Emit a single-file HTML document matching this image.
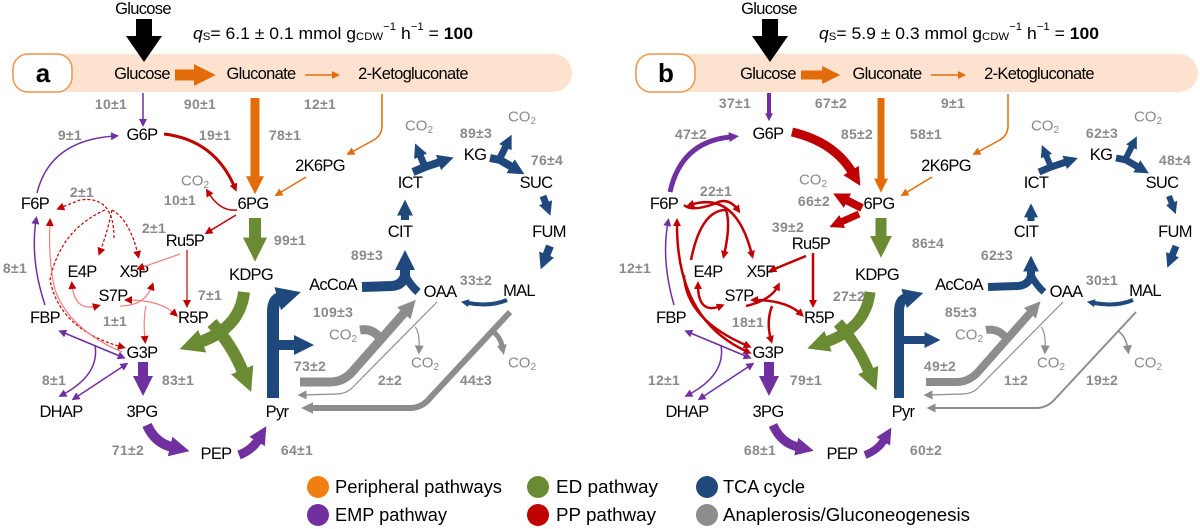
<!DOCTYPE html>
<html><head><meta charset="utf-8"><style>
html,body{margin:0;padding:0;background:#fff;}
svg{display:block;font-family:"Liberation Sans",Arial,sans-serif;}
.n{font-size:16.5px;fill:#000;text-anchor:middle;dominant-baseline:central;letter-spacing:-0.7px;}
.v{font-size:14px;fill:#8a8a8a;font-weight:bold;text-anchor:middle;dominant-baseline:central;letter-spacing:0.3px;}
.c{font-size:15px;fill:#8a8a8a;text-anchor:middle;dominant-baseline:central;}
.l{font-size:18px;fill:#000;dominant-baseline:central;}
path{fill:none;stroke-linecap:butt;}
</style></head><body>
<svg width="1200" height="529" viewBox="0 0 1200 529" xmlns="http://www.w3.org/2000/svg">
<defs>
<marker id="OT" viewBox="0 0 10 10" refX="1" refY="5" markerWidth="2" markerHeight="2.2" orient="auto"><path d="M0,0L10,5L0,10z" style="fill:#e36c0a;stroke:none"/></marker>
<marker id="PT" viewBox="0 0 10 10" refX="1" refY="5" markerWidth="2" markerHeight="2.2" orient="auto"><path d="M0,0L10,5L0,10z" style="fill:#7030a0;stroke:none"/></marker>
<marker id="GT" viewBox="0 0 10 10" refX="1" refY="5" markerWidth="2" markerHeight="2.2" orient="auto"><path d="M0,0L10,5L0,10z" style="fill:#6a8a34;stroke:none"/></marker>
<marker id="BT" viewBox="0 0 10 10" refX="1" refY="5" markerWidth="2" markerHeight="2.2" orient="auto"><path d="M0,0L10,5L0,10z" style="fill:#1f497d;stroke:none"/></marker>
<marker id="RT" viewBox="0 0 10 10" refX="1" refY="5" markerWidth="2" markerHeight="2.2" orient="auto"><path d="M0,0L10,5L0,10z" style="fill:#c00000;stroke:none"/></marker>
<marker id="KT" viewBox="0 0 10 10" refX="1" refY="5" markerWidth="2" markerHeight="2.2" orient="auto"><path d="M0,0L10,5L0,10z" style="fill:#8d8d8d;stroke:none"/></marker>
<marker id="Ot" viewBox="0 0 10 10" refX="5" refY="5" markerUnits="userSpaceOnUse" markerWidth="9" markerHeight="8" orient="auto"><path d="M0,0L10,5L0,10z" style="fill:#e36c0a;stroke:none"/></marker>
<marker id="Pt" viewBox="0 0 10 10" refX="5" refY="5" markerUnits="userSpaceOnUse" markerWidth="9" markerHeight="8" orient="auto-start-reverse"><path d="M0,0L10,5L0,10z" style="fill:#7030a0;stroke:none"/></marker>
<marker id="Rt" viewBox="0 0 10 10" refX="5" refY="5" markerUnits="userSpaceOnUse" markerWidth="9" markerHeight="8" orient="auto-start-reverse"><path d="M0,0L10,5L0,10z" style="fill:#c00000;stroke:none"/></marker>
<marker id="Kt" viewBox="0 0 10 10" refX="5" refY="5" markerUnits="userSpaceOnUse" markerWidth="10" markerHeight="9" orient="auto"><path d="M0,0L10,5L0,10z" style="fill:#8d8d8d;stroke:none"/></marker>
</defs>

<!-- ================= PANEL A ================= -->
<g>
<rect x="12" y="54" width="560" height="38" rx="19" fill="#fde3cf"/>
<rect x="13" y="54" width="59" height="38" rx="15" fill="#fff" stroke="#f0944a" stroke-width="1.5"/>
<text x="43" y="73" style="font-size:26px;font-weight:bold;text-anchor:middle;dominant-baseline:central">a</text>
<text class="n" x="143" y="9">Glucose</text>
<polygon points="136,19 152,19 152,36 162,36 144,62 126,36 136,36" fill="#000"/>
<text x="193" y="33" textLength="280" lengthAdjust="spacingAndGlyphs" style="font-size:17px;dominant-baseline:central"><tspan font-style="italic">q</tspan><tspan font-size="11" dy="4">S</tspan><tspan dy="-4">= 6.1 ± 0.1 mmol g</tspan><tspan font-size="11" dy="4">CDW</tspan><tspan font-size="11" dy="-10">−1</tspan><tspan dy="6"> h</tspan><tspan font-size="11" dy="-6">−1</tspan><tspan dy="6"> = </tspan><tspan font-weight="bold">100</tspan></text>
<text class="n" x="142" y="74">Glucose</text>
<text class="n" x="261" y="74">Gluconate</text>
<text class="n" x="413" y="74">2-Ketogluconate</text>
<path d="M175,75 L196,75" stroke="#e36c0a" stroke-width="11" marker-end="url(#OT)"/>
<path d="M305,75 L336,75" stroke="#e36c0a" stroke-width="1.5" marker-end="url(#Ot)"/>
<path d="M143,93 L143,123" stroke="#7030a0" stroke-width="1.5" marker-end="url(#Pt)"/>
<path d="M255,98 L255,178" stroke="#e36c0a" stroke-width="9" marker-end="url(#OT)"/>
<path d="M382,94 L382,126 Q382,136 372,141 L350,153" stroke="#e36c0a" stroke-width="1.5" marker-end="url(#Ot)"/>
<path d="M306,177 L278,194" stroke="#e36c0a" stroke-width="1.5" marker-end="url(#Ot)"/>
<text class="v" x="111" y="104">10±1</text><text class="v" x="200" y="104">90±1</text><text class="v" x="320" y="104">12±1</text>
<text class="n" x="142" y="135">G6P</text><text class="v" x="70" y="135">9±1</text><text class="v" x="215" y="135">19±1</text><text class="v" x="285" y="135">78±1</text>
<text class="n" x="320" y="166">2K6PG</text>
<path d="M164,134 Q215,140 235,188" stroke="#c00000" stroke-width="3" marker-end="url(#Rt)"/>
<path d="M37,193 Q50,140 115,136" stroke="#7030a0" stroke-width="1.5" marker-end="url(#Pt)"/>
<text class="c" x="195" y="181">CO<tspan font-size="10" dy="4">2</tspan></text>
<text class="v" x="180" y="200">10±1</text>
<text class="n" x="253" y="204">6PG</text>
<path d="M237,210 Q220,212 208,192" stroke="#c00000" stroke-width="1.5" marker-end="url(#Rt)"/>
<path d="M236,215 L208,232" stroke="#c00000" stroke-width="1.5" marker-end="url(#Rt)"/>
<path d="M255,218 L255,240" stroke="#6a8a34" stroke-width="12" marker-end="url(#GT)"/>
<text class="v" x="290" y="240">99±1</text>
<text class="n" x="35" y="204">F6P</text><text class="v" x="82" y="192">2±1</text><text class="v" x="154" y="228">2±1</text>
<text class="n" x="185" y="241">Ru5P</text>
<text class="n" x="251" y="275">KDPG</text>
<text class="n" x="82" y="272">E4P</text><text class="n" x="134" y="272">X5P</text><text class="n" x="113" y="296">S7P</text>
<text class="n" x="193" y="318">R5P</text><text class="n" x="45" y="318">FBP</text><text class="v" x="115" y="321">1±1</text>
<text class="v" x="15" y="268">8±1</text><text class="v" x="210" y="295">7±1</text>
<path d="M114,238 Q114,195 80,200 L60,208" stroke="#c00000" stroke-width="1.2" stroke-dasharray="3,2" marker-end="url(#Rt)"/>
<path d="M112,210 Q108,230 100,252" stroke="#c00000" stroke-width="1.2" stroke-dasharray="3,2" marker-end="url(#Rt)"/>
<path d="M112,210 Q130,220 138,255" stroke="#c00000" stroke-width="1.2" stroke-dasharray="3,2" marker-end="url(#Rt)"/>
<path d="M105,210 Q60,230 50,280 Q60,330 122,347" stroke="#c00000" stroke-width="1.2" stroke-dasharray="3,2" marker-end="url(#Rt)"/>
<path d="M122,352 Q70,330 55,290 Q48,260 50,222" stroke="#f08080" stroke-width="1.2" marker-end="url(#Rt)"/>
<path d="M180,254 L140,268" stroke="#f08080" stroke-width="1.2" marker-end="url(#Rt)"/>
<path d="M187,250 L187,304" stroke="#c00000" stroke-width="1.2" marker-end="url(#Rt)"/>
<path d="M72,285 Q75,312 97,306" stroke="#f08080" stroke-width="1.2" marker-end="url(#Rt)" marker-start="url(#Rt)"/>
<path d="M120,306 Q145,306 152,286" stroke="#f08080" stroke-width="1.2" marker-end="url(#Rt)"/>
<path d="M128,300 Q160,300 175,314" stroke="#f08080" stroke-width="1.2" marker-end="url(#Rt)" marker-start="url(#Rt)"/>
<path d="M146,306 Q143,320 145,340" stroke="#f08080" stroke-width="1.2" marker-end="url(#Rt)"/>
<path d="M45,305 Q30,260 36,220" stroke="#7030a0" stroke-width="1.5" marker-end="url(#Pt)"/>
<path d="M62,332 L122,357" stroke="#7030a0" stroke-width="1.5" marker-end="url(#Pt)" marker-start="url(#Pt)"/>
<path d="M95,345 Q100,375 62,395" stroke="#7030a0" stroke-width="1.5" marker-end="url(#Pt)"/>
<path d="M75,398 L125,365" stroke="#7030a0" stroke-width="1.5" marker-end="url(#Pt)" marker-start="url(#Pt)"/>
<text class="n" x="142" y="353">G3P</text>
<text class="v" x="54" y="380">8±1</text><text class="v" x="178" y="380">83±1</text>
<path d="M143,362 L143,378" stroke="#7030a0" stroke-width="10" marker-end="url(#PT)"/>
<text class="n" x="61" y="412">DHAP</text><text class="n" x="142" y="412">3PG</text><text class="n" x="277" y="412">Pyr</text>
<path d="M147,425 Q155,443 172,447" stroke="#7030a0" stroke-width="10" marker-end="url(#PT)"/>
<path d="M239,455 Q252,450 258,440" stroke="#7030a0" stroke-width="9" marker-end="url(#PT)"/>
<text class="v" x="128" y="450">71±2</text><text class="n" x="216" y="454">PEP</text><text class="v" x="297" y="450">64±1</text>
<path d="M244,292 Q240,328 200,342" stroke="#6a8a34" stroke-width="12" marker-end="url(#GT)"/>
<path d="M212,323 Q232,345 243,372" stroke="#6a8a34" stroke-width="12" marker-end="url(#GT)"/>
<path d="M273,398 L273,312 Q273,300 280,298" stroke="#1f497d" stroke-width="12" marker-end="url(#BT)"/>
<path d="M273,345 L296,345" stroke="#1f497d" stroke-width="10" marker-end="url(#BT)"/>
<text class="n" x="333" y="285">AcCoA</text><text class="n" x="440" y="292">OAA</text><text class="n" x="519" y="291">MAL</text>
<text class="v" x="476" y="280">33±2</text><text class="v" x="333" y="312">109±3</text>
<text class="c" x="343" y="335">CO<tspan font-size="10" dy="4">2</tspan></text>
<path d="M362,287 L392,286 Q403,285 405,275 L405,268" stroke="#1f497d" stroke-width="10" marker-end="url(#BT)"/>
<path d="M418,292 Q410,285 405,275" stroke="#1f497d" stroke-width="8"/>
<text class="v" x="367" y="255">89±3</text>
<text class="n" x="400" y="232">CIT</text>
<path d="M405,220 L405,214" stroke="#1f497d" stroke-width="8" marker-end="url(#BT)"/>
<text class="n" x="410" y="183">ICT</text>
<path d="M413,172 L425,167 L440,162" stroke="#1f497d" stroke-width="8" marker-end="url(#BT)"/>
<path d="M425,167 L420,155" stroke="#1f497d" stroke-width="7" marker-end="url(#BT)"/>
<text class="c" x="419" y="126">CO<tspan font-size="10" dy="4">2</tspan></text>
<text class="n" x="475" y="155">KG</text><text class="v" x="476" y="133">89±3</text>
<text class="c" x="522" y="117">CO<tspan font-size="10" dy="4">2</tspan></text>
<path d="M490,158 L500,160 L512,167" stroke="#1f497d" stroke-width="8" marker-end="url(#BT)"/>
<path d="M500,158 L506,146" stroke="#1f497d" stroke-width="7" marker-end="url(#BT)"/>
<text class="v" x="547" y="160">76±4</text>
<text class="n" x="536" y="183">SUC</text>
<path d="M543,196 L546,204" stroke="#1f497d" stroke-width="7" marker-end="url(#BT)"/>
<text class="n" x="549" y="232">FUM</text>
<path d="M550,246 L546,256" stroke="#1f497d" stroke-width="8" marker-end="url(#BT)"/>
<path d="M507,300 Q490,307 468,303" stroke="#1f497d" stroke-width="4" marker-end="url(#BT)"/>
<path d="M300,382 L330,382 Q343,382 352,372 L405,312" stroke="#8d8d8d" stroke-width="9" marker-end="url(#KT)"/>
<path d="M360,330 Q372,328 380,338" stroke="#8d8d8d" stroke-width="9"/>
<path d="M437,302 L352,388 Q346,394 336,394 L302,395" stroke="#8d8d8d" stroke-width="1.2" marker-end="url(#Kt)"/>
<path d="M415,327 Q420,332 419,350" stroke="#8d8d8d" stroke-width="1.2" marker-end="url(#Kt)"/>
<text class="c" x="425" y="363">CO<tspan font-size="10" dy="4">2</tspan></text>
<path d="M510,312 L430,398 Q422,408 410,408 L312,408" stroke="#8d8d8d" stroke-width="6" marker-end="url(#KT)"/>
<path d="M492,331 Q500,336 502,346" stroke="#8d8d8d" stroke-width="5" marker-end="url(#KT)"/>
<text class="c" x="522" y="363">CO<tspan font-size="10" dy="4">2</tspan></text>
<text class="v" x="310" y="366">73±2</text><text class="v" x="390" y="380">2±2</text><text class="v" x="476" y="380">44±3</text>
</g>

<!-- ================= PANEL B ================= -->
<g transform="translate(626,0)">
<rect x="9" y="54" width="563" height="38" rx="19" fill="#fde3cf"/>
<rect x="10" y="54" width="59" height="38" rx="15" fill="#fff" stroke="#f0944a" stroke-width="1.5"/>
<text x="40" y="73" style="font-size:26px;font-weight:bold;text-anchor:middle;dominant-baseline:central">b</text>
<text class="n" x="143" y="9">Glucose</text>
<polygon points="136,19 152,19 152,36 162,36 144,62 126,36 136,36" fill="#000"/>
<text x="193" y="33" textLength="280" lengthAdjust="spacingAndGlyphs" style="font-size:17px;dominant-baseline:central"><tspan font-style="italic">q</tspan><tspan font-size="11" dy="4">S</tspan><tspan dy="-4">= 5.9 ± 0.3 mmol g</tspan><tspan font-size="11" dy="4">CDW</tspan><tspan font-size="11" dy="-10">−1</tspan><tspan dy="6"> h</tspan><tspan font-size="11" dy="-6">−1</tspan><tspan dy="6"> = </tspan><tspan font-weight="bold">100</tspan></text>
<text class="n" x="142" y="74">Glucose</text>
<text class="n" x="261" y="74">Gluconate</text>
<text class="n" x="413" y="74">2-Ketogluconate</text>
<path d="M175,75 L198,75" stroke="#e36c0a" stroke-width="9" marker-end="url(#OT)"/>
<path d="M305,75 L336,75" stroke="#e36c0a" stroke-width="1.5" marker-end="url(#Ot)"/>
<path d="M143,93 L143,114" stroke="#7030a0" stroke-width="4" marker-end="url(#PT)"/>
<path d="M255,98 L255,180" stroke="#e36c0a" stroke-width="7" marker-end="url(#OT)"/>
<path d="M382,94 L382,126 Q382,136 372,141 L350,153" stroke="#e36c0a" stroke-width="1.5" marker-end="url(#Ot)"/>
<path d="M306,177 L278,194" stroke="#e36c0a" stroke-width="1.5" marker-end="url(#Ot)"/>
<text class="v" x="109" y="103">37±1</text><text class="v" x="205" y="103">67±2</text><text class="v" x="327" y="103">9±1</text>
<text class="n" x="142" y="134">G6P</text><text class="v" x="65" y="134">47±2</text><text class="v" x="231" y="134">85±2</text><text class="v" x="300" y="134">58±1</text>
<text class="n" x="320" y="166">2K6PG</text>
<path d="M166,132 Q208,142 226,172" stroke="#c00000" stroke-width="9" marker-end="url(#RT)"/>
<path d="M44,192 Q55,142 104,137" stroke="#7030a0" stroke-width="5" marker-end="url(#PT)"/>
<text class="c" x="187" y="180">CO<tspan font-size="10" dy="4">2</tspan></text>
<text class="v" x="188" y="201">66±2</text>
<text class="n" x="253" y="204">6PG</text>
<path d="M236,208 L220,200" stroke="#c00000" stroke-width="8" marker-end="url(#RT)"/>
<path d="M233,214 L215,222" stroke="#c00000" stroke-width="7" marker-end="url(#RT)"/>
<path d="M255,218 L255,238" stroke="#6a8a34" stroke-width="11" marker-end="url(#GT)"/>
<text class="v" x="302" y="243">86±4</text>
<text class="n" x="38" y="204">F6P</text><text class="v" x="90" y="191">22±1</text><text class="v" x="162" y="227">39±2</text>
<text class="n" x="185" y="244">Ru5P</text>
<text class="n" x="251" y="275">KDPG</text>
<text class="n" x="82" y="272">E4P</text><text class="n" x="135" y="272">X5P</text><text class="n" x="113" y="296">S7P</text>
<text class="n" x="193" y="318">R5P</text><text class="n" x="45" y="318">FBP</text><text class="v" x="122" y="322">18±1</text>
<text class="v" x="9" y="268">12±1</text><text class="v" x="223" y="296">27±2</text>
<path d="M112,210 Q102,196 88,204 Q65,212 58,205" stroke="#c00000" stroke-width="2.5" marker-start="url(#Rt)"/>
<path d="M64,205 Q110,190 126,255" stroke="#c00000" stroke-width="2.5" marker-start="url(#Rt)" marker-end="url(#Rt)"/>
<path d="M65,260 Q75,210 100,210 Q105,225 98,255" stroke="#c00000" stroke-width="2.5" marker-end="url(#Rt)"/>
<path d="M51,222 Q50,320 122,352" stroke="#c00000" stroke-width="2.5" marker-start="url(#Rt)" marker-end="url(#Rt)"/>
<path d="M58,275 Q60,320 122,346" stroke="#c00000" stroke-width="2.5" marker-end="url(#Rt)"/>
<path d="M180,256 L146,270" stroke="#c00000" stroke-width="2.5" marker-end="url(#Rt)"/>
<path d="M187,253 L187,304" stroke="#c00000" stroke-width="2.5" marker-end="url(#Rt)"/>
<path d="M72,285 Q72,315 95,306" stroke="#c00000" stroke-width="2.5" marker-end="url(#Rt)" marker-start="url(#Rt)"/>
<path d="M120,306 Q145,300 152,286" stroke="#c00000" stroke-width="2.5" marker-end="url(#Rt)"/>
<path d="M128,300 Q160,300 175,314" stroke="#c00000" stroke-width="2.5" marker-end="url(#Rt)" marker-start="url(#Rt)"/>
<path d="M146,306 Q140,322 145,340" stroke="#c00000" stroke-width="2.5" marker-end="url(#Rt)"/>
<path d="M48,305 Q35,260 42,222" stroke="#7030a0" stroke-width="1.5" marker-end="url(#Pt)"/>
<path d="M62,332 L122,357" stroke="#7030a0" stroke-width="1.5" marker-end="url(#Pt)" marker-start="url(#Pt)"/>
<path d="M95,345 Q100,375 62,395" stroke="#7030a0" stroke-width="1.5" marker-end="url(#Pt)"/>
<path d="M75,398 L125,365" stroke="#7030a0" stroke-width="1.5" marker-end="url(#Pt)" marker-start="url(#Pt)"/>
<text class="n" x="142" y="353">G3P</text>
<text class="v" x="38" y="380">12±1</text><text class="v" x="180" y="380">79±1</text>
<path d="M143,362 L143,378" stroke="#7030a0" stroke-width="10" marker-end="url(#PT)"/>
<text class="n" x="61" y="412">DHAP</text><text class="n" x="142" y="412">3PG</text><text class="n" x="277" y="412">Pyr</text>
<path d="M147,425 Q155,443 172,447" stroke="#7030a0" stroke-width="9" marker-end="url(#PT)"/>
<path d="M239,455 Q252,450 258,440" stroke="#7030a0" stroke-width="8" marker-end="url(#PT)"/>
<text class="v" x="134" y="450">68±1</text><text class="n" x="216" y="454">PEP</text><text class="v" x="300" y="450">60±2</text>
<path d="M244,292 Q240,328 200,342" stroke="#6a8a34" stroke-width="11" marker-end="url(#GT)"/>
<path d="M212,323 Q232,345 243,372" stroke="#6a8a34" stroke-width="11" marker-end="url(#GT)"/>
<path d="M273,398 L273,312 Q273,300 280,298" stroke="#1f497d" stroke-width="10" marker-end="url(#BT)"/>
<path d="M273,340 L300,340" stroke="#1f497d" stroke-width="8" marker-end="url(#BT)"/>
<text class="n" x="333" y="285">AcCoA</text><text class="n" x="440" y="292">OAA</text><text class="n" x="519" y="291">MAL</text>
<text class="v" x="476" y="280">30±1</text><text class="v" x="335" y="312">85±3</text>
<text class="c" x="343" y="335">CO<tspan font-size="10" dy="4">2</tspan></text>
<path d="M362,287 L392,286 Q403,285 405,275 L405,270" stroke="#1f497d" stroke-width="8" marker-end="url(#BT)"/>
<path d="M418,292 Q410,285 405,275" stroke="#1f497d" stroke-width="7"/>
<text class="v" x="371" y="255">62±3</text>
<text class="n" x="400" y="232">CIT</text>
<path d="M405,221 L405,216" stroke="#1f497d" stroke-width="7" marker-end="url(#BT)"/>
<text class="n" x="410" y="183">ICT</text>
<path d="M413,172 L425,167 L440,162" stroke="#1f497d" stroke-width="7" marker-end="url(#BT)"/>
<path d="M425,167 L420,155" stroke="#1f497d" stroke-width="6" marker-end="url(#BT)"/>
<text class="c" x="419" y="126">CO<tspan font-size="10" dy="4">2</tspan></text>
<text class="n" x="475" y="155">KG</text><text class="v" x="476" y="133">62±3</text>
<text class="c" x="522" y="117">CO<tspan font-size="10" dy="4">2</tspan></text>
<path d="M490,158 L500,160 L512,167" stroke="#1f497d" stroke-width="7" marker-end="url(#BT)"/>
<path d="M500,158 L506,146" stroke="#1f497d" stroke-width="6" marker-end="url(#BT)"/>
<text class="v" x="549" y="160">48±4</text>
<text class="n" x="536" y="183">SUC</text>
<path d="M543,196 L546,204" stroke="#1f497d" stroke-width="6" marker-end="url(#BT)"/>
<text class="n" x="549" y="232">FUM</text>
<path d="M550,246 L546,256" stroke="#1f497d" stroke-width="7" marker-end="url(#BT)"/>
<path d="M507,300 Q490,307 468,303" stroke="#1f497d" stroke-width="4" marker-end="url(#BT)"/>
<path d="M300,382 L330,382 Q343,382 352,372 L405,312" stroke="#8d8d8d" stroke-width="8" marker-end="url(#KT)"/>
<path d="M360,330 Q372,328 380,338" stroke="#8d8d8d" stroke-width="8"/>
<path d="M437,302 L352,388 Q346,394 336,394 L302,395" stroke="#8d8d8d" stroke-width="1.2" marker-end="url(#Kt)"/>
<path d="M415,327 Q420,332 419,350" stroke="#8d8d8d" stroke-width="1.2" marker-end="url(#Kt)"/>
<text class="c" x="425" y="363">CO<tspan font-size="10" dy="4">2</tspan></text>
<path d="M510,312 L430,398 Q422,408 410,408 L305,408" stroke="#8d8d8d" stroke-width="2" marker-end="url(#Kt)"/>
<path d="M492,331 Q500,336 502,350" stroke="#8d8d8d" stroke-width="1.5" marker-end="url(#Kt)"/>
<text class="c" x="522" y="363">CO<tspan font-size="10" dy="4">2</tspan></text>
<text class="v" x="314" y="366">49±2</text><text class="v" x="390" y="380">1±2</text><text class="v" x="476" y="380">19±2</text>
</g>

<!-- legend -->
<circle cx="318" cy="487" r="11" fill="#f07f12"/><text class="l" x="335" y="487" textLength="167" lengthAdjust="spacingAndGlyphs">Peripheral pathways</text>
<circle cx="318" cy="515" r="11" fill="#7030a0"/><text class="l" x="335" y="515" textLength="112" lengthAdjust="spacingAndGlyphs">EMP pathway</text>
<circle cx="538" cy="487" r="11" fill="#6a8a34"/><text class="l" x="556" y="487" textLength="102" lengthAdjust="spacingAndGlyphs">ED pathway</text>
<circle cx="538" cy="515" r="11" fill="#c00000"/><text class="l" x="556" y="515" textLength="100" lengthAdjust="spacingAndGlyphs">PP pathway</text>
<circle cx="707" cy="487" r="11" fill="#1f497d"/><text class="l" x="723" y="487" textLength="82" lengthAdjust="spacingAndGlyphs">TCA cycle</text>
<circle cx="707" cy="515" r="11" fill="#8d8d8d"/><text class="l" x="723" y="515" textLength="247" lengthAdjust="spacingAndGlyphs">Anaplerosis/Gluconeogenesis</text>
</svg>
</body></html>
